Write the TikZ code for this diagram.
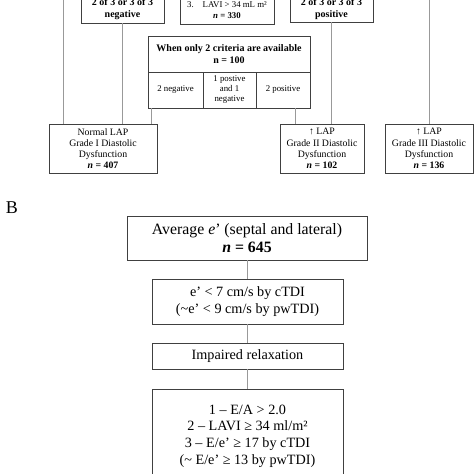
\documentclass[tikz,border=0pt]{standalone}
\usepackage{fontspec}
\setmainfont{Liberation Serif}
\tikzset{
  box/.style={draw=black!75, line width=0.9pt, align=center, inner sep=1pt},
  link/.style={draw=black!40, line width=0.7pt},
  small/.style={font=\fontsize{9.8}{11.2}\selectfont},
  smallbf/.style={font=\fontsize{10}{12.5}\selectfont\bfseries},
  tiny/.style={font=\fontsize{8.8}{10}\selectfont},
  big/.style={font=\fontsize{14.2}{16.7}\selectfont},
}
\begin{document}
\begin{tikzpicture}[x=1pt, y=-1pt]
    \useasboundingbox (0,0) rectangle (474,474);
    \clip (0,0) rectangle (474,474);
    \fill[white] (0,0) rectangle (474,474);

    % Panel A, criteria boxes (cut at the top)
    \node[box, smallbf, minimum width=83, minimum height=27.5] (neg) at (122.5,9.25) {2 of 3 or 3 of 3\\negative};
    \node[box, tiny, minimum width=94, minimum height=27] (lavi) at (227,10.5)
        {3.\quad LAVI > 34 mL m²\\[1pt]\textbf{\textit{n} = 330}};
    \node[box, smallbf, minimum width=83, minimum height=26] (pos) at (331.5,9) {2 of 3 or 3 of 3\\positive};
    \coordinate (topL) at (63,0);
    \coordinate (topR) at (429,0);

    % Panel A, two criteria table
    \node[box, smallbf, minimum width=162, minimum height=36] (two) at (229,54)
        {When only 2 criteria are available\\n = 100};
    \node[box, tiny, minimum width=55, minimum height=36] (cellA) at (175.5,90) {2 negative};
    \node[box, tiny, minimum width=53, minimum height=36] (cellB) at (229.5,90) {1 postive\\and 1\\negative};
    \node[box, tiny, minimum width=54, minimum height=36] (cellC) at (283,90) {2 positive};

    % Panel A, outcome boxes
    \node[box, small, minimum width=108, minimum height=49] (normal) at (103,148.5)
        {Normal LAP\\Grade I Diastolic\\Dysfunction\\\textbf{\textit{n} = 407}};
    \node[box, small, minimum width=84, minimum height=49] (gradeII) at (322,148.5)
        {↑ LAP\\Grade II Diastolic\\Dysfunction\\\textbf{\textit{n} = 102}};
    \node[box, small, minimum width=88, minimum height=49] (gradeIII) at (429,148.5)
        {↑ LAP\\Grade III Diastolic\\Dysfunction\\\textbf{\textit{n} = 136}};

    % Panel A, links
    \draw[link] (topL) -- (topL |- normal.north);
    \draw[link] (neg.south) -- (neg.south |- normal.north);
    \draw[link] ([xshift=4]cellA.south west) -- ([xshift=4]cellA.south west |- normal.north);
    \draw[link] ([xshift=-15]cellC.south east) -- ([xshift=-15]cellC.south east |- gradeII.north);
    \draw[link] (pos.south) -- (pos.south |- gradeII.north);
    \draw[link] (topR) -- (gradeIII.north);

    % Panel B
    \node[font=\fontsize{18}{20}\selectfont] (labelB) at (12,208) {B};
    \node[box, font=\fontsize{15.8}{18}\selectfont, minimum width=240, minimum height=44] (avg) at (247,238)
        {Average \textit{e}’ (septal and lateral)\\\textbf{\textit{n} = 645}};
    \node[box, big, minimum width=191, minimum height=45] (etdi) at (247.5,301.5)
        {e’ < 7 cm/s by cTDI\\(\textasciitilde e’ < 9 cm/s by pwTDI)};
    \node[box, big, minimum width=191, minimum height=26] (relax) at (247.5,356) {Impaired relaxation};
    \node[box, big, minimum width=191, minimum height=94] (crit) at (247.5,436)
        {1 – E/A > 2.0\\2 – LAVI ≥ 34 ml/m²\\3 – E/e’ ≥ 17 by cTDI\\(\textasciitilde\ E/e’ ≥ 13 by pwTDI)};

    \draw[link] (avg.south) -- (avg.south |- etdi.north);
    \draw[link] (etdi.south) -- (relax.north);
    \draw[link] (relax.south) -- (crit.north);
\end{tikzpicture}
\end{document}
